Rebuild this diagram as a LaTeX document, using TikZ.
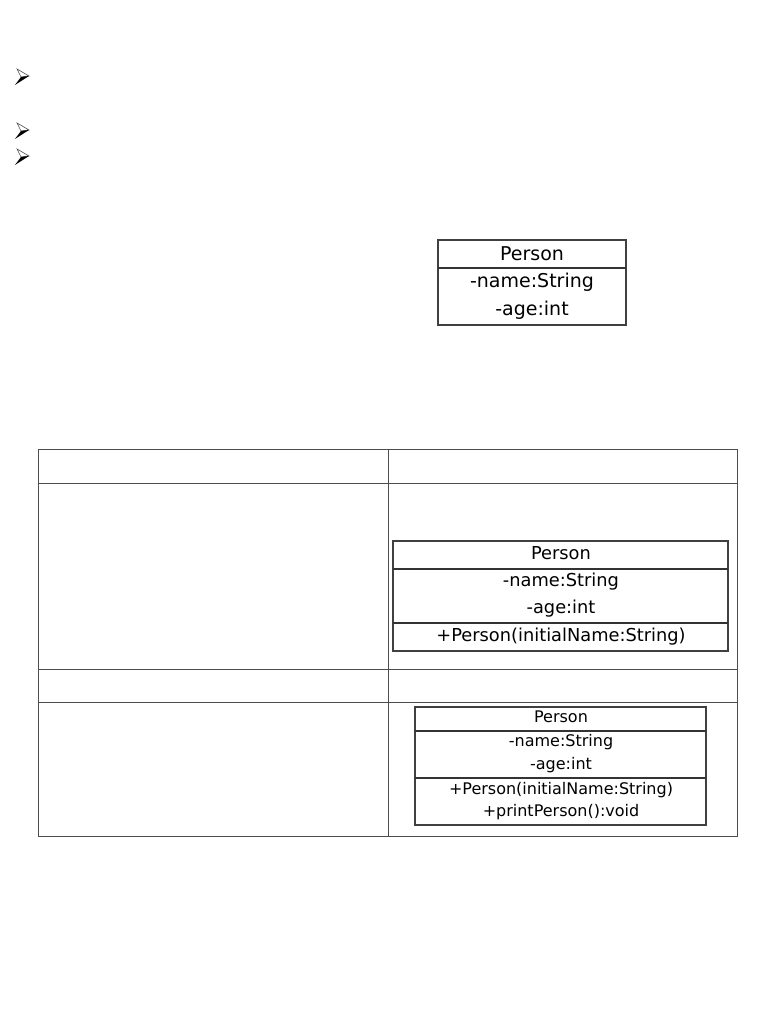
\documentclass[tikz,border=0pt]{standalone}
\usepackage{fontspec}
\setmainfont{DejaVu Sans}
\begin{document}
\begin{tikzpicture}[
    x=1pt,y=-1pt,
    umlbox/.style={draw=black!75,line width=1.6pt},
    umlline/.style={draw=black!80,line width=1.2pt},
    cell/.style={draw=black!70,line width=0.9pt},
    bigtext/.style={inner sep=0pt,anchor=base,font=\fontsize{19}{22}\selectfont},
    midtext/.style={inner sep=0pt,anchor=base,font=\fontsize{17.8}{20}\selectfont},
    smalltext/.style={inner sep=0pt,anchor=base,font=\fontsize{16}{18}\selectfont}
]
\useasboundingbox (0,0) rectangle (768,1024);

% bullets
\foreach \n/\y in {b1/77,b2/131,b3/157} {
  \coordinate (\n) at (22,\y);
  \begin{scope}[shift={(\n)}]
    \draw[black!70,line width=0.6pt,fill=white] (-5,-8) -- (7,-1) -- (-1,0) -- cycle;
    \fill[black] (-1,0) -- (7,-1) -- (-7,8) -- cycle;
  \end{scope}
}

% first class box
\draw[umlbox] (438,240) rectangle (626,325);
\draw[umlline] (438,268) -- (626,268);
\node[bigtext] (p1) at (532,260) {Person};
\node[bigtext] (p1name) at (532,287) {-name:String};
\node[bigtext] (p1age) at (532,315) {-age:int};

% table
\draw[cell] (38,449) rectangle (737,836);
\draw[cell] (388,449) -- (388,836);
\foreach \y in {483,669,702}
  \draw[cell] (38,\y) -- (737,\y);

% second class box
\draw[umlbox] (393,541) rectangle (728,651);
\draw[umlline] (393,569) -- (728,569);
\draw[umlline] (393,623) -- (728,623);
\node[midtext] (p2) at (561,559) {Person};
\node[midtext] (p2name) at (561,586) {-name:String};
\node[midtext] (p2age) at (561,613) {-age:int};
\node[midtext] (p2ctor) at (561,641) {+Person(initialName:String)};

% third class box
\draw[umlbox] (415,707) rectangle (706,825);
\draw[umlline] (415,731) -- (706,731);
\draw[umlline] (415,778) -- (706,778);
\node[smalltext] (p3) at (561,722) {Person};
\node[smalltext] (p3name) at (561,746) {-name:String};
\node[smalltext] (p3age) at (561,769) {-age:int};
\node[smalltext] (p3ctor) at (561,794) {+Person(initialName:String)};
\node[smalltext] (p3print) at (561,816) {+printPerson():void};
\end{tikzpicture}
\end{document}
